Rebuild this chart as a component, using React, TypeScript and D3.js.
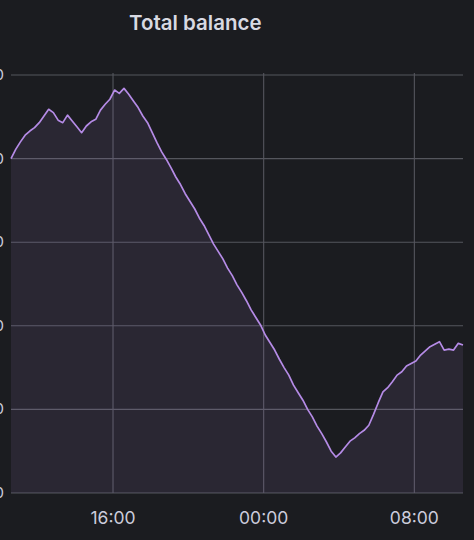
import { useEffect, useRef } from "react";
import * as d3 from "d3";

// samples every 15 minutes, from 10:35 on day one to 10:35 the next day
const START_TIME = "2024-03-04T10:35:00";
const STEP_MINUTES = 15;
const balance = [
  400, 411, 420, 428, 433, 437, 443, 451, 459, 455, 446, 443, 452, 445, 438, 431,
  439, 444, 447, 458, 465, 471, 482, 478, 484, 477, 469, 461, 451, 443, 431, 419,
  408, 399, 389, 378, 369, 358, 349, 340, 329, 320, 309, 298, 289, 280, 269, 260,
  249, 240, 230, 219, 210, 201, 189, 180, 171, 160, 150, 141, 129, 120, 111, 100,
  91, 80, 71, 61, 50, 43, 48, 55, 62, 66, 71, 75, 81, 94, 108, 121,
  126, 133, 141, 145, 152, 155, 158, 165, 170, 175, 178, 181, 171, 172, 171, 179,
  177,
];
const yTicks = [0, 100, 200, 300, 400, 500];
const xTickLabels = ["16:00", "00:00", "08:00"];

type Row = { time: Date; value: number };

export default function App() {
  const svgRef = useRef<SVGSVGElement>(null);

  useEffect(() => {
    if (!svgRef.current) return;
    const W = 474;
    const H = 540;
    const margin = { top: 75, right: 11, bottom: 47, left: 11 };
    const width = W - margin.left - margin.right;
    const height = H - margin.top - margin.bottom;

    const start = new Date(START_TIME);
    const data: Row[] = balance.map((v, i) => ({
      time: new Date(start.getTime() + i * STEP_MINUTES * 60000),
      value: v,
    }));

    const svg = d3.select(svgRef.current);
    svg.selectAll("*").remove();
    svg.attr("width", W).attr("height", H);

    svg.append("rect")
      .attr("width", W)
      .attr("height", H)
      .attr("fill", "#1b1c20");

    // title
    svg.append("text")
      .attr("x", 129)
      .attr("y", 30)
      .attr("fill", "#d8d9e2")
      .attr("font-family", "Inter, Roboto, sans-serif")
      .attr("font-size", 20.5)
      .attr("font-weight", 600)
      .text("Total balance");

    const g = svg.append("g")
      .attr("transform", `translate(${margin.left},${margin.top})`);

    const x = d3.scaleTime()
      .domain(d3.extent(data, d => d.time) as [Date, Date])
      .range([0, width]);
    const y = d3.scaleLinear()
      .domain([0, 500])
      .range([height, 0]);

    // tick times: 16:00, 00:00, 08:00
    const tickTimes = xTickLabels.map(lbl => {
      const [hh] = lbl.split(":").map(Number);
      const t = new Date(start);
      t.setHours(hh, 0, 0, 0);
      if (t < start) t.setDate(t.getDate() + 1);
      return t;
    });

    // grid
    g.selectAll("line.hgrid")
      .data(yTicks)
      .enter()
      .append("line")
      .attr("x1", 0)
      .attr("x2", width)
      .attr("y1", d => y(d))
      .attr("y2", d => y(d))
      .attr("stroke", "#55565d")
      .attr("stroke-width", 1.1);

    g.selectAll("line.vgrid")
      .data(tickTimes)
      .enter()
      .append("line")
      .attr("x1", d => x(d))
      .attr("x2", d => x(d))
      .attr("y1", -2)
      .attr("y2", height)
      .attr("stroke", "#55565d")
      .attr("stroke-width", 1.1);

    // y labels, almost entirely cut off on the left edge (as in the panel)
    svg.selectAll("text.ylab")
      .data(yTicks)
      .enter()
      .append("text")
      .attr("x", 4)
      .attr("y", d => margin.top + y(d) + 5)
      .attr("text-anchor", "end")
      .attr("fill", "#ccccdc")
      .attr("font-family", "Inter, Roboto, sans-serif")
      .attr("font-size", 15)
      .text(d => String(d));

    // x labels
    g.selectAll("text.xlab")
      .data(tickTimes)
      .enter()
      .append("text")
      .attr("x", d => x(d))
      .attr("y", height + 31)
      .attr("text-anchor", "middle")
      .attr("fill", "#ccccdc")
      .attr("font-family", "Inter, Roboto, sans-serif")
      .attr("font-size", 17.5)
      .text((_, i) => xTickLabels[i]);

    const area = d3.area<Row>()
      .x(d => x(d.time))
      .y0(height)
      .y1(d => y(d.value));
    const line = d3.line<Row>()
      .x(d => x(d.time))
      .y(d => y(d.value));

    g.append("path")
      .datum(data)
      .attr("fill", "#b58be6")
      .attr("fill-opacity", 0.1)
      .attr("d", area);

    g.append("path")
      .datum(data)
      .attr("fill", "none")
      .attr("stroke", "#b58be6")
      .attr("stroke-width", 1.7)
      .attr("stroke-linejoin", "round")
      .attr("d", line);
  }, []);

  return (
    <div style={{ position: "absolute", left: 0, top: 0 }}>
      <svg ref={svgRef} style={{ display: "block" }}></svg>
    </div>
  );
}
